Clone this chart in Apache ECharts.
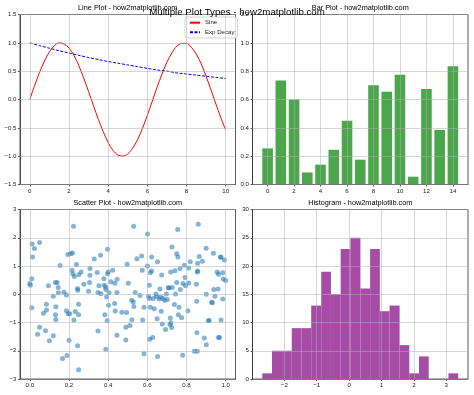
<!DOCTYPE html>
<html><head><meta charset="utf-8">
<script src="https://cdn.jsdelivr.net/npm/echarts@6/dist/echarts.min.js"></script>
<style>html,body{margin:0;padding:0;background:#fff}#c{width:474px;height:395px}</style>
</head><body><div id="c"></div>
<script>
// ---------- data ----------
const lineX = [0,0.25,0.5,0.75,1,1.25,1.5,1.75,2,2.25,2.5,2.75,3,3.25,3.5,3.75,4,4.25,4.5,4.75,5,5.25,5.5,5.75,6,6.25,6.5,6.75,7,7.25,7.5,7.75,8,8.25,8.5,8.75,9,9.25,9.5,9.75,10];
const sineY = [0,0.25,0.48,0.68,0.84,0.95,1.0,0.98,0.91,0.78,0.6,0.38,0.14,-0.11,-0.35,-0.57,-0.76,-0.9,-0.98,-1.0,-0.96,-0.86,-0.71,-0.51,-0.28,-0.03,0.22,0.45,0.66,0.82,0.94,0.99,0.99,0.92,0.8,0.63,0.41,0.17,-0.08,-0.32,-0.54];
const expX = [0,0.5,1,1.5,2,2.5,3,3.5,4,4.5,5,5.5,6,6.5,7,7.5,8,8.5,9,9.5,10];
const expY = [1.0,0.95,0.905,0.86,0.82,0.78,0.74,0.705,0.67,0.64,0.61,0.58,0.55,0.52,0.5,0.47,0.45,0.43,0.41,0.39,0.37];
const seriesNames = ['Sine','Exp Decay'];

const barCats = [0,1,2,3,4,5,6,7,8,9,10,11,12,13,14];
const barVals = [0.255,0.735,0.6,0.085,0.14,0.245,0.45,0.175,0.7,0.655,0.775,0.055,0.675,0.385,0.835];

const scatterX = [0.0,0.003,0.01,0.01,0.012,0.014,0.024,0.05,0.04,0.05,0.07,0.085,0.085,0.08,0.095,0.1,0.12,0.12,0.13,0.133,0.131,0.133,0.14,0.145,0.146,0.155,0.167,0.174,0.187,0.187,0.194,0.19,0.196,0.204,0.208,0.218,0.216,0.22,0.227,0.223,0.2,0.232,0.225,0.238,0.244,0.245,0.249,0.25,0.249,0.244,0.249,0.262,0.276,0.3,0.305,0.307,0.307,0.329,0.344,0.348,0.348,0.353,0.361,0.363,0.378,0.38,0.383,0.387,0.388,0.388,0.392,0.397,0.395,0.397,0.402,0.4,0.405,0.414,0.423,0.433,0.434,0.436,0.445,0.445,0.446,0.47,0.49,0.49,0.494,0.497,0.503,0.511,0.52,0.521,0.528,0.53,0.531,0.538,0.547,0.562,0.571,0.574,0.576,0.583,0.583,0.601,0.601,0.606,0.61,0.61,0.612,0.615,0.615,0.622,0.627,0.622,0.63,0.635,0.644,0.647,0.652,0.652,0.65,0.66,0.664,0.668,0.671,0.673,0.676,0.68,0.688,0.693,0.697,0.702,0.707,0.71,0.716,0.717,0.719,0.72,0.724,0.726,0.727,0.738,0.741,0.744,0.75,0.75,0.756,0.755,0.758,0.762,0.767,0.768,0.775,0.782,0.78,0.789,0.792,0.795,0.807,0.811,0.811,0.819,0.84,0.85,0.852,0.853,0.855,0.855,0.857,0.857,0.86,0.865,0.881,0.891,0.9,0.901,0.901,0.911,0.916,0.928,0.932,0.939,0.937,0.945,0.957,0.961,0.963,0.963,0.969,0.973,0.976,0.976,0.985,0.985,0.988,0.993,1.0];
const scatterY = [0.38,0.32,0.55,-0.48,1.78,1.32,1.62,1.83,-1.42,-1.17,-0.67,-0.56,-0.35,-1.29,0.3,-1.65,-1.47,-0.07,0.42,-0.44,-0.73,-0.89,0.42,0.24,0.05,1.02,-2.27,0.07,-0.03,-0.58,1.41,-2.17,-0.69,-0.69,1.43,1.46,0.85,0.73,0.63,2.41,-1.63,-0.61,-0.91,1.05,0.2,0.14,-0.35,0.69,-0.73,-1.82,-2.67,0.79,0.35,0.11,0.42,0.91,0.67,1.25,0.77,0.06,-1.3,0.3,1.38,0.02,0.55,0.32,-0.73,0.26,-1.95,0.17,-0.1,1.59,-0.94,0.73,-0.39,0.79,0.05,0.44,0.85,-0.33,0.39,-0.59,0.06,-1.45,0.53,-0.64,-1.62,-1.17,-0.65,1.06,0.39,-1.11,-0.21,-0.9,-0.27,2.41,-0.43,0.06,1.26,-0.04,1.35,0.85,-0.91,-0.46,-2.11,1.0,2.13,-0.07,0.32,-0.15,-1.59,0.76,-0.46,1.32,-1.53,0.82,-0.15,-0.51,0.01,-0.08,1.15,-2.2,-0.87,-0.17,0.19,-0.1,-0.6,0.68,-1.05,-0.15,-0.21,-1.25,0.01,-0.19,0.23,0.23,-1.07,-0.84,0.79,-1.01,-1.18,1.67,0.24,-0.36,0.83,0.01,0.42,1.43,1.32,2.29,-0.73,-0.46,0.91,0.17,-0.83,0.38,-2.16,1.03,0.59,0.3,-0.58,0.93,0.4,1.15,-2.02,0.35,-0.25,-1.36,-2.02,0.79,0.82,1.1,2.48,1.34,1.17,-1.55,1.63,0.0,-1.79,-0.94,-0.93,-0.28,-0.3,0.17,1.45,-0.07,0.79,0.19,0.71,-1.53,-1.53,1.32,1.31,-0.91,0.76,-0.17,0.54,1.21,0.49];

const histEdges = [-2.68,-2.38,-2.07,-1.77,-1.47,-1.17,-0.86,-0.56,-0.26,0.04,0.35,0.65,0.95,1.25,1.56,1.86,2.16,2.46,2.77,3.07,3.37];
const histCounts = [1,5,5,9,9,13,19,15,23,25,16,23,12,13,6,1,4,0,0,1];

// tick values and labels
const lineXTicks = [0,2,4,6,8,10];
const lineXLabels = ['0','2','4','6','8','10'];
const lineYTicks = [-1.5,-1.0,-0.5,0,0.5,1.0,1.5];
const lineYLabels = ['\u22121.5','\u22121.0','\u22120.5','0.0','0.5','1.0','1.5'];
const barXTicks = [0,2,4,6,8,10,12,14];
const barXLabels = ['0','2','4','6','8','10','12','14'];
const barYTicks = [0,0.2,0.4,0.6,0.8,1.0,1.2];
const barYLabels = ['0.0','0.2','0.4','0.6','0.8','1.0','1.2'];
const scXTicks = [0,0.2,0.4,0.6,0.8,1.0];
const scXLabels = ['0.0','0.2','0.4','0.6','0.8','1.0'];
const scYTicks = [-3,-2,-1,0,1,2,3];
const scYLabels = ['\u22123','\u22122','\u22121','0','1','2','3'];
const hiXTicks = [-2,-1,0,1,2,3];
const hiXLabels = ['\u22122','\u22121','0','1','2','3'];
const hiYTicks = [0,5,10,15,20,25,30];
const hiYLabels = ['0','5','10','15','20','25','30'];

const titles = ['Line Plot - how2matplotlib.com','Bar Plot - how2matplotlib.com','Scatter Plot - how2matplotlib.com','Histogram - how2matplotlib.com'];
const supTitle = 'Multiple Plot Types - how2matplotlib.com';

// ---------- layout / style ----------
const FF = 'Liberation Sans, Arial, sans-serif';
const grids = [
  {left:20, top:14.5, width:215.5, height:170},
  {left:252.5, top:14.5, width:215.5, height:170},
  {left:20, top:209.5, width:215.5, height:169.5},
  {left:252.5, top:209.5, width:215.5, height:169.5}
];
const spine = '#333';
function mkAxis(gi, min, max, ticks, labels, z){
  return {
    type:'value', gridIndex:gi, min:min, max:max, z:z,
    axisLine:{show:true, onZero:false, lineStyle:{color:spine, width:0.8}},
    axisTick:{show:true, length:2, customValues:ticks, lineStyle:{color:spine, width:0.8}},
    axisLabel:{customValues:ticks, fontSize:6.1, fontFamily:FF, color:'#222', margin:3.5,
      formatter:function(v){ for(let i=0;i<ticks.length;i++){ if(Math.abs(ticks[i]-v)<1e-9) return labels[i]; } return ''; }},
    splitLine:{show:false}
  };
}
function gridLines(gi, xt, yt, z){
  return {
    type:'line', xAxisIndex:gi, yAxisIndex:gi, data:[], z:z, silent:true, animation:false,
    markLine:{silent:true, animation:false, symbol:['none','none'], label:{show:false},
      lineStyle:{color:'rgba(176,176,176,0.5)', width:1, type:'solid'},
      emphasis:{disabled:true},
      data: xt.map(v=>({xAxis:v})).concat(yt.map(v=>({yAxis:v})))}
  };
}

const chart = echarts.init(document.getElementById('c'), null, {renderer:'canvas'});
const titleStyle = {fontSize:7.3, fontFamily:FF, color:'#000', fontWeight:'normal'};
const option = {
  animation:false,
  backgroundColor:'#fff',
  textStyle:{fontFamily:FF, color:'#000'},
  grid: grids.map(g=>Object.assign({show:true, borderColor:spine, borderWidth:0.8, backgroundColor:'transparent', containLabel:false}, g)),
  xAxis: [
    mkAxis(0,-0.5,10.5,lineXTicks,lineXLabels,3),
    mkAxis(1,-1.14,15.14,barXTicks,barXLabels,3),
    mkAxis(2,-0.05,1.05,scXTicks,scXLabels,3),
    mkAxis(3,-2.9825,3.6725,hiXTicks,hiXLabels,3)
  ],
  yAxis: [
    mkAxis(0,-1.5,1.5,lineYTicks,lineYLabels,3),
    mkAxis(1,0,1.2,barYTicks,barYLabels,3),
    mkAxis(2,-3,3,scYTicks,scYLabels,3),
    mkAxis(3,0,30,hiYTicks,hiYLabels,3)
  ],
  legend: {
    data: seriesNames, left:185, top:17, orient:'vertical', itemWidth:10, itemHeight:6, itemGap:3.6,
    padding:[2.7,3,2.7,4], backgroundColor:'rgba(255,255,255,0.8)', borderColor:'#ccc', borderWidth:0.8, borderRadius:2,
    itemStyle:{opacity:0},
    textStyle:{fontSize:6.1, fontFamily:FF, color:'#222'}, selectedMode:false
  },
  title: [
    {text:titles[0], left:127.75, top:4.6, textAlign:'center', padding:0, textStyle:titleStyle},
    {text:titles[1], left:360.25, top:4.6, textAlign:'center', padding:0, textStyle:titleStyle},
    {text:titles[2], left:127.75, top:199.5, textAlign:'center', padding:0, textStyle:titleStyle},
    {text:titles[3], left:360.25, top:199.5, textAlign:'center', padding:0, textStyle:titleStyle},
    {text:supTitle, left:237, top:7.5, textAlign:'center', padding:0, z:20, textStyle:{fontSize:9.7, fontFamily:FF, color:'#000', fontWeight:'normal'}}
  ],
  series: [
    gridLines(0, lineXTicks, lineYTicks, 1),
    {name:seriesNames[0], type:'line', xAxisIndex:0, yAxisIndex:0, data: lineX.map((x,i)=>[x, sineY[i]]),
      showSymbol:false, symbol:'none', smooth:0.3, lineStyle:{color:'#ff0000', width:1}, itemStyle:{color:'#ff0000'}, z:2},
    {name:seriesNames[1], type:'line', xAxisIndex:0, yAxisIndex:0, data: expX.map((x,i)=>[x, expY[i]]),
      showSymbol:false, symbol:'none', smooth:0.3, lineStyle:{color:'#0000ff', width:1, type:[3,1.5]}, itemStyle:{color:'#0000ff'}, z:2},
    {type:'custom', xAxisIndex:1, yAxisIndex:1, data: barCats.map((c,i)=>[c, barVals[i]]), z:2,
      encode:{x:0, y:1},
      renderItem:function(params, api){
        const c = api.value(0), v = api.value(1);
        const p0 = api.coord([c-0.4, v]), p1 = api.coord([c+0.4, 0]);
        return {type:'rect', shape:{x:p0[0], y:p0[1], width:p1[0]-p0[0], height:p1[1]-p0[1]}, style:{fill:'#4ca64c'}};
      }},
    gridLines(1, barXTicks, barYTicks, 3),
    {type:'scatter', xAxisIndex:2, yAxisIndex:2, data: scatterX.map((x,i)=>[x, scatterY[i]]), symbolSize:5,
      itemStyle:{color:'#1f77b4', opacity:0.55}, z:2},
    gridLines(2, scXTicks, scYTicks, 3),
    {type:'custom', xAxisIndex:3, yAxisIndex:3, data: histCounts.map((c,i)=>[histEdges[i], histEdges[i+1], c]), z:2,
      encode:{x:[0,1], y:2},
      renderItem:function(params, api){
        const a = api.value(0), b = api.value(1), c = api.value(2);
        const p0 = api.coord([a, c]), p1 = api.coord([b, 0]);
        return {type:'rect', shape:{x:p0[0], y:p0[1], width:p1[0]-p0[0], height:p1[1]-p0[1]}, style:{fill:'#a64ca6'}};
      }},
    gridLines(3, hiXTicks, hiYTicks, 3)
  ]
};
chart.setOption(option);
</script>
</body></html>
